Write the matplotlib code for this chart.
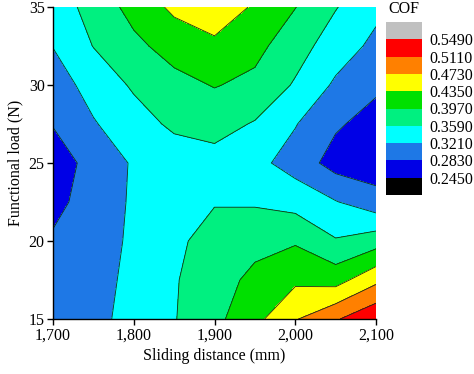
import numpy as np
import matplotlib
matplotlib.use("Agg")
import matplotlib.pyplot as plt
from matplotlib.colors import ListedColormap, BoundaryNorm
from matplotlib.colorbar import ColorbarBase
from matplotlib.ticker import FuncFormatter

plt.rcParams["font.family"] = ["Liberation Serif", "DejaVu Serif"]
plt.rcParams["font.size"] = 11.5

# grid (sliding distance in mm, load in N)
sliding = [1700, 1750, 1800, 1850, 1900, 1950, 2000, 2050, 2100]
load = [15, 17.5, 20, 22.5, 25, 27.5, 30, 32.5, 35]

cof_15 = [0.290, 0.311, 0.333, 0.357, 0.387, 0.424, 0.470, 0.507, 0.543]
cof_17_5 = [0.288, 0.308, 0.330, 0.356, 0.380, 0.407, 0.428, 0.420, 0.464]
cof_20 = [0.288, 0.305, 0.327, 0.352, 0.372, 0.385, 0.393, 0.362, 0.380]
cof_22_5 = [0.272, 0.300, 0.326, 0.343, 0.357, 0.355, 0.345, 0.323, 0.298]
cof_25 = [0.262, 0.297, 0.325, 0.338, 0.345, 0.332, 0.305, 0.268, 0.262]
cof_27_5 = [0.285, 0.318, 0.343, 0.366, 0.373, 0.356, 0.323, 0.288, 0.268]
cof_30 = [0.303, 0.335, 0.364, 0.385, 0.399, 0.388, 0.355, 0.315, 0.290]
cof_32_5 = [0.322, 0.360, 0.388, 0.412, 0.428, 0.408, 0.375, 0.340, 0.312]
cof_35 = [0.338, 0.373, 0.410, 0.443, 0.455, 0.431, 0.398, 0.361, 0.330]

levels = [0.2450, 0.2830, 0.3210, 0.3590, 0.3970, 0.4350, 0.4730, 0.5110, 0.5490]
band_colors = ["#000000", "#0000e6", "#1e78e6", "#00ffff", "#00f080",
               "#00e000", "#ffff00", "#ff8000", "#ff0000", "#c0c0c0"]

Z = np.array([cof_15, cof_17_5, cof_20, cof_22_5, cof_25,
              cof_27_5, cof_30, cof_32_5, cof_35])
X, Y = np.meshgrid(sliding, load)

fig = plt.figure(figsize=(4.74, 3.74), dpi=100)
ax = fig.add_axes([53 / 474, 1 - 319 / 374, 323 / 474, 312 / 374])

step = levels[1] - levels[0]
bounds = [levels[0] - step] + levels + [levels[-1] + step]
cmap = ListedColormap(band_colors)
norm = BoundaryNorm(bounds, cmap.N)

ax.contourf(X, Y, Z, levels=bounds, colors=band_colors)
ax.contour(X, Y, Z, levels=levels, colors="#10301a", linewidths=0.6)

ax.set_xlim(1700, 2100)
ax.set_ylim(15, 35)
ax.set_xticks([1700, 1800, 1900, 2000, 2100])
ax.set_yticks([15, 20, 25, 30, 35])
ax.xaxis.set_major_formatter(FuncFormatter(lambda v, p: f"{int(v):,}"))
ax.tick_params(direction="out", length=4, width=1, pad=2)
for side in ["top", "right"]:
    ax.spines[side].set_visible(False)
for side in ["left", "bottom"]:
    ax.spines[side].set_linewidth(1.0)
ax.set_xlabel("Sliding distance (mm)", labelpad=3)
ax.set_ylabel("Functional load (N)", labelpad=4)

# legend-style colour bar
cax = fig.add_axes([386 / 474, 1 - 195 / 374, 36 / 474, 173 / 374])
cb = ColorbarBase(cax, cmap=cmap, norm=norm, boundaries=bounds, ticks=levels)
cb.outline.set_visible(False)
cb.ax.minorticks_off()
cb.ax.tick_params(length=0, pad=5)
cb.ax.set_yticklabels([f"{v:.4f}" for v in levels])
fig.text(388 / 474, 1 - 9 / 374, "COF", ha="left", va="center")

fig.savefig("out.png", dpi=100)
